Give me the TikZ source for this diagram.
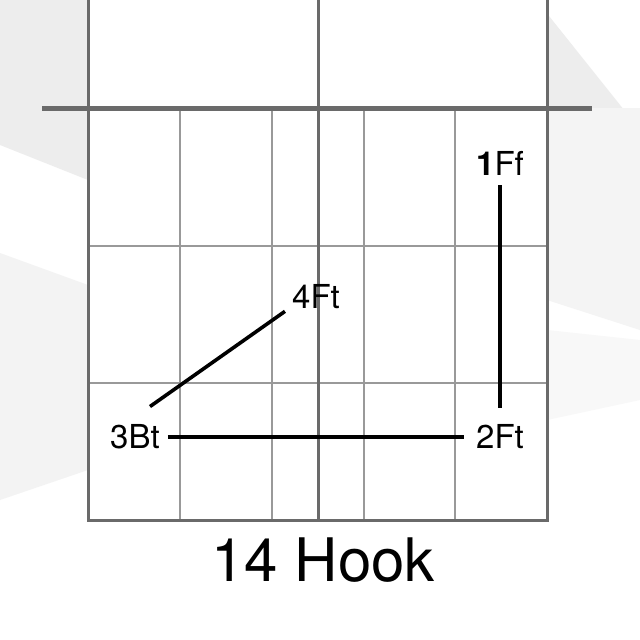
\documentclass[tikz,border=0pt]{standalone}
\usepackage{fontspec}
\setmainfont{TeX Gyre Heros}
\usepackage{tikz}
\usepackage{xcolor}
\usetikzlibrary{positioning}

\definecolor{gridgray}{HTML}{999999}
\definecolor{framegray}{HTML}{6A6A6A}
\definecolor{bggray}{HTML}{EDEDED}

\begin{document}
\begin{tikzpicture}[x=1pt,y=-1pt,
		grid/.style={draw=gridgray, line width=1.8pt},
		frame/.style={draw=framegray, line width=3pt},
		stroke/.style={draw=black, line width=3.6pt},
		lbl/.style={font=\fontsize{33}{33}\selectfont, inner sep=2pt}]
			\useasboundingbox (0,0) rectangle (640,640);
			\fill[white] (0,0) rectangle (640,640);
			% background shading
			\fill[bggray] (0,0) -- (88,0) -- (88,180) -- (0,145) -- cycle;
			\fill[bggray!70] (0,253) -- (88,285) -- (88,470) -- (0,500) -- cycle;
			\fill[bggray] (549,16) -- (640,130) -- (640,108) -- (547,108) -- cycle;
			\fill[bggray!60] (547,108) -- (640,108) -- (640,330) -- (547,300) -- cycle;
			\fill[bggray!40] (547,330) -- (640,340) -- (640,400) -- (547,420) -- cycle;

			\foreach \x in {180, 272, 364, 455} {
				\draw[grid] (\x,108) -- (\x,520);
			}
			\foreach \y in {246, 383} {
				\draw[grid] (88,\y) -- (547,\y);
			}
			\draw[frame] (318,-5) -- (318,520);
			\draw[frame] (88,-5) -- (88,520) -- (547,520) -- (547,-5);
			\draw[framegray, line width=5pt] (42,108) -- (592,108);

			\node[lbl] (f1) at (500,163) {\textbf{1}Ff};
			\node[lbl] (f2) at (500,437) {2Ft};
			\node[lbl] (b3) at (135,437) {3Bt};
			\node[lbl] (f4) at (316,297) {4Ft};
			\node[font=\fontsize{60}{60}\selectfont] (title) at (323,560) {14 Hook};

			\draw[stroke, shorten <=8pt, shorten >=15pt] (f1.south) -- (f2.north);
			\draw[stroke, shorten <=6pt, shorten >=10pt] (b3.east) -- (f2.west);
			\draw[stroke] ([xshift=15pt, yshift=16pt]b3.north) -- ([xshift=-5pt]f4.south west);
		\end{tikzpicture}
\end{document}
